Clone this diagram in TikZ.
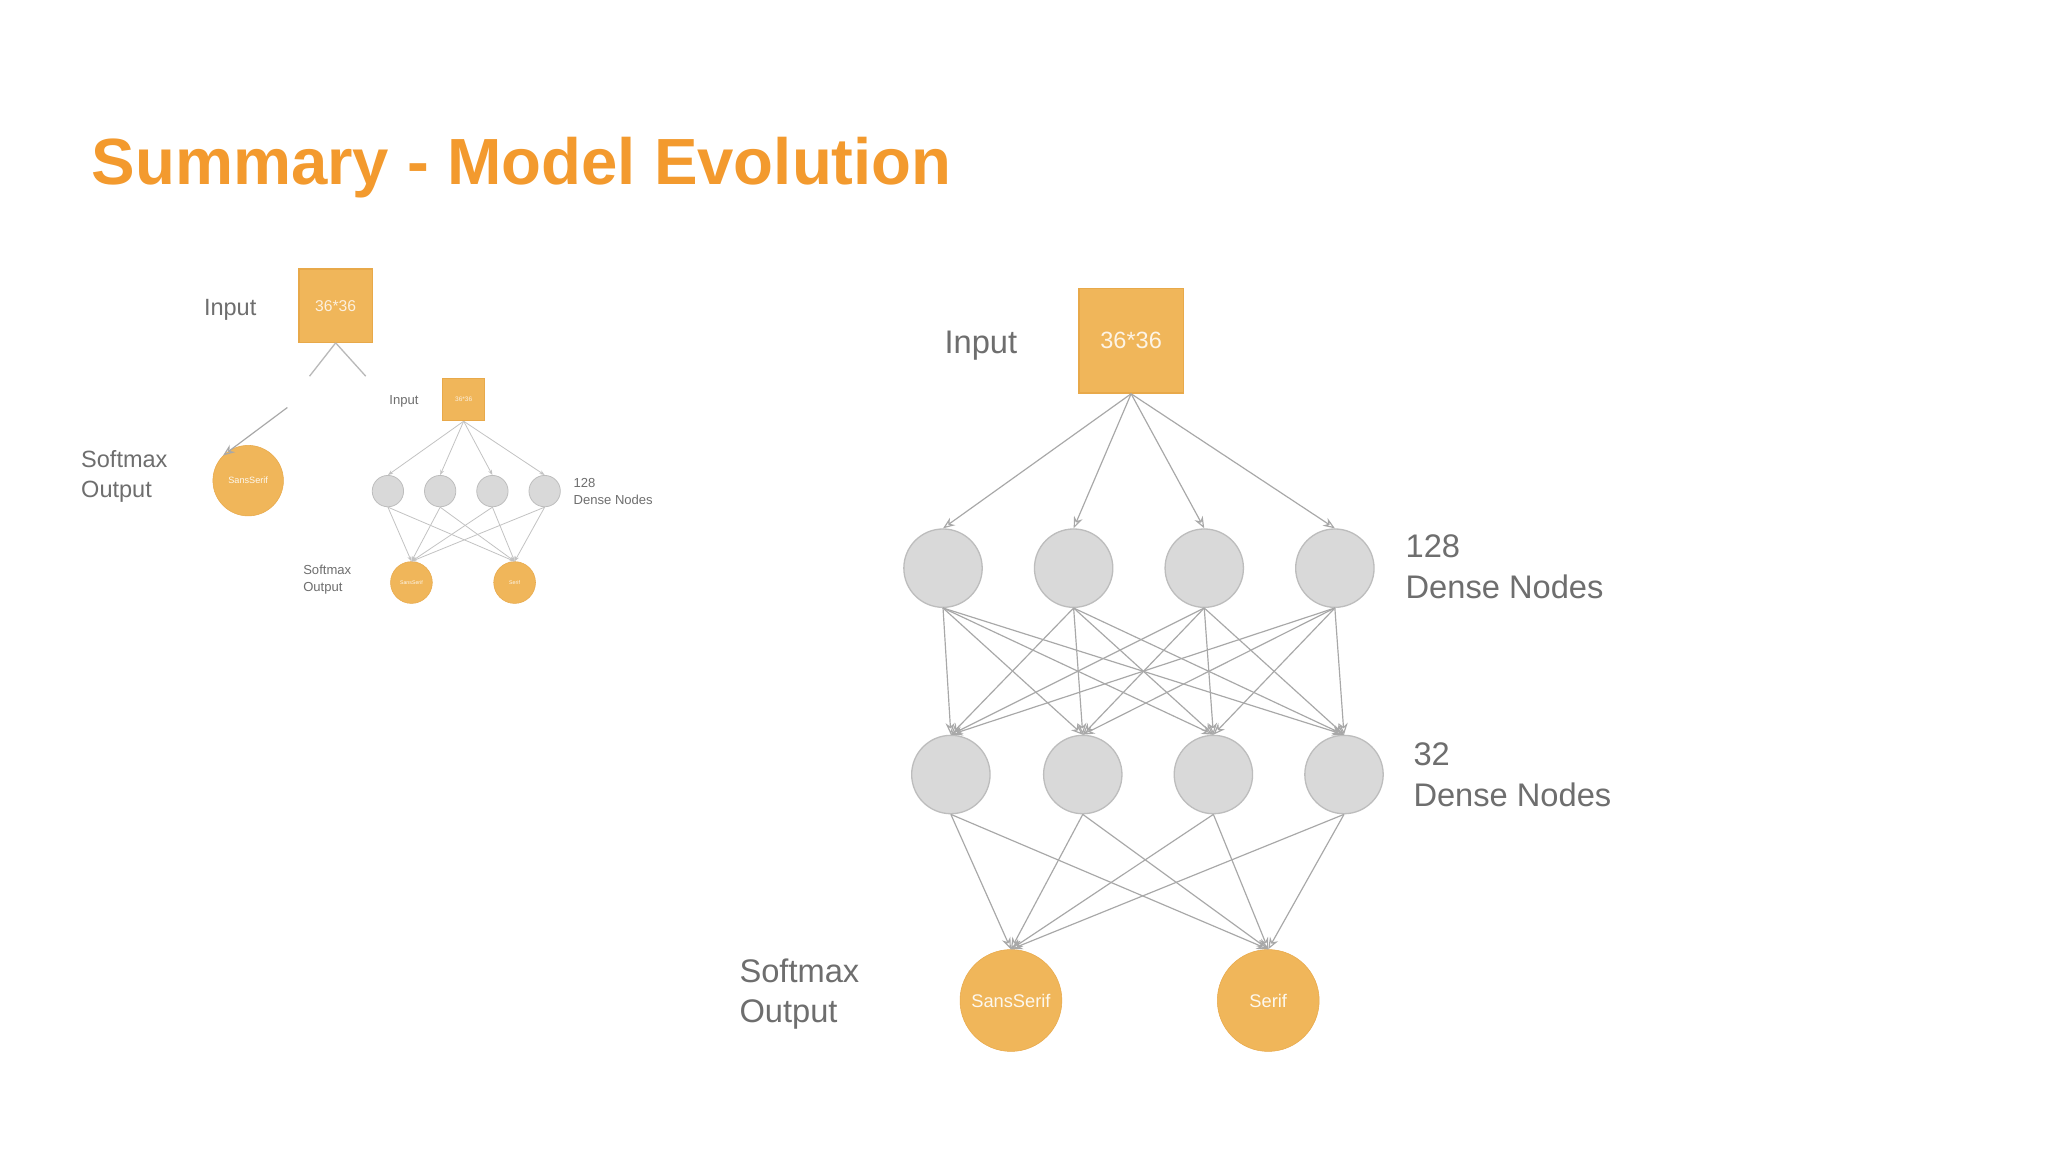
\documentclass[tikz,border=0pt]{standalone}
\usepackage{fontspec}
\setmainfont{Liberation Sans}
\usetikzlibrary{arrows.meta}
\definecolor{ttl}{HTML}{F39A2E}
\definecolor{org}{HTML}{F0B65A}
\definecolor{orgd}{HTML}{E8A94A}
\definecolor{gfill}{HTML}{D9D9D9}
\definecolor{gline}{HTML}{BDBDBD}
\definecolor{txt}{HTML}{6E6E6E}
\definecolor{edge}{HTML}{A8A8A8}
\tikzset{
  box/.style={draw=orgd,fill=org,minimum size=#1,inner sep=0pt,line width=1pt},
  onode/.style={circle,draw=orgd,fill=org,minimum size=#1,inner sep=0pt,text=white!90!org},
  gnode/.style={circle,draw=gline,fill=gfill,minimum size=#1,inner sep=0pt,line width=1pt},
  lbl/.style={text=txt,align=left,inner sep=0pt},
  con/.style={draw=edge,line width=0.9pt,-{Stealth[open,length=9pt,width=7pt]}},
  scon/.style={draw=edge!70,line width=0.6pt,-{Stealth[open,length=4pt,width=3pt]}},
  line/.style={draw=edge!80,line width=1pt}
}
\begin{document}
\begin{tikzpicture}[x=1pt,y=-1pt]
\useasboundingbox[fill=white] (0,0) rectangle (1568,882);
% title
\node[anchor=base west,inner sep=0pt,text=ttl,font=\fontsize{50}{60}\selectfont\bfseries] (title) at (70,141) {Summary - Model Evolution};

% ===== big diagram =====
\node[box=80pt,font=\fontsize{18}{20}\selectfont,text=white!85!org] (in) at (866,261) {36*36};
\node[lbl,anchor=west,font=\fontsize{25}{30}\selectfont] (inl) at (723,265) {Input};
\foreach \x [count=\i] in {722,822,922,1022}
  \node[gnode=60pt] (a\i) at (\x,435) {};
\foreach \x [count=\i] in {728,829,929,1029}
  \node[gnode=60pt] (b\i) at (\x,593) {};
\node[onode=78pt,font=\fontsize{14}{16}\selectfont] (o1) at (774,766) {SansSerif};
\node[onode=78pt,font=\fontsize{14}{16}\selectfont] (o2) at (971,766) {Serif};
\node[lbl,anchor=west,font=\fontsize{25}{31}\selectfont] (l128) at (1076,434) {128\\Dense Nodes};
\node[lbl,anchor=west,font=\fontsize{25}{31}\selectfont] (l32) at (1082,593) {32\\Dense Nodes};
\node[lbl,anchor=west,font=\fontsize{25}{31}\selectfont] (lout) at (566,761) {Softmax\\Output};
\foreach \i in {1,...,4} \draw[con] (in.south) -- (a\i.north);
\foreach \i in {1,...,4} \foreach \j in {1,...,4} \draw[con] (a\i.south) -- (b\j.north);
\foreach \i in {1,...,4} \foreach \j in {1,2} \draw[con] (b\i.south) -- (o\j.north);

% ===== small diagram 1 =====
\node[box=56pt,font=\fontsize{12}{14}\selectfont,text=white!80!org] (sin) at (257,234) {36*36};
\node[lbl,anchor=west,font=\fontsize{18}{22}\selectfont] (sinl) at (156,237) {Input};
\node[onode=54pt,font=\fontsize{7}{8}\selectfont] (so) at (190,368) {SansSerif};
\node[lbl,anchor=west,font=\fontsize{18}{23}\selectfont] (solbl) at (62,365) {Softmax\\Output};
\coordinate (c1) at (237,288);
\coordinate (c2) at (280,288);
\coordinate (c3) at (220,312);
\draw[line] (sin.south) -- (c1);
\draw[line] (sin.south) -- (c2);
\draw[con] (c3) -- (so.north west);

% ===== small diagram 2 =====
\node[box=32pt,font=\fontsize{5}{6}\selectfont,text=white!80!org] (tin) at (355,306) {36*36};
\node[lbl,anchor=west,font=\fontsize{10}{12}\selectfont] (tinl) at (298,307) {Input};
\foreach \x [count=\i] in {297,337,377,417}
  \node[gnode=24pt,line width=0.6pt] (t\i) at (\x,376) {};
\node[onode=32pt,font=\fontsize{4}{5}\selectfont] (to1) at (315,446) {SansSerif};
\node[onode=32pt,font=\fontsize{4}{5}\selectfont] (to2) at (394,446) {Serif};
\node[lbl,anchor=west,font=\fontsize{10}{13}\selectfont] (tl128) at (439,376) {128\\Dense Nodes};
\node[lbl,anchor=west,font=\fontsize{10}{13}\selectfont] (tlout) at (232,444) {Softmax\\Output};
\foreach \i in {1,...,4} \draw[scon] (tin.south) -- (t\i.north);
\foreach \i in {1,...,4} \foreach \j in {1,2} \draw[scon] (t\i.south) -- (to\j.north);
\end{tikzpicture}
\end{document}
